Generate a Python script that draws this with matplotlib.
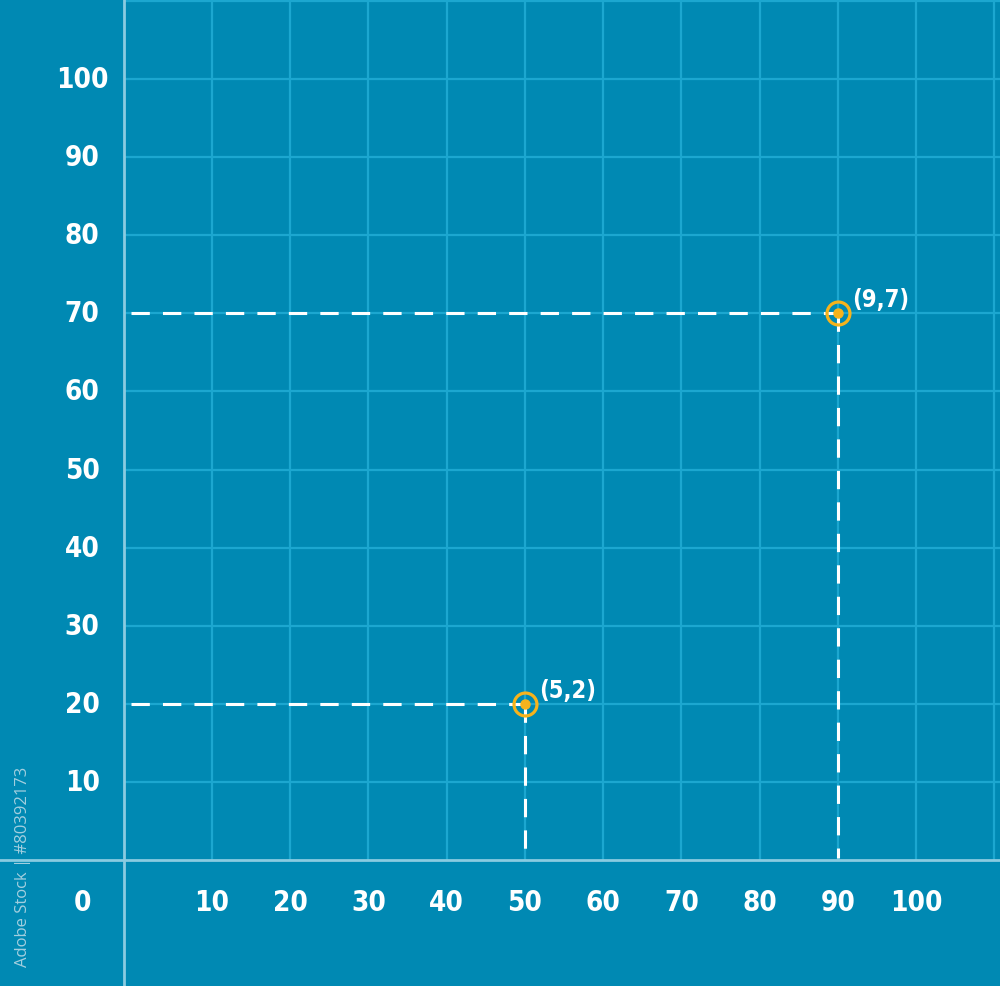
import matplotlib
matplotlib.use('Agg')
import matplotlib.pyplot as plt
import numpy as np

# data
x_ticks = [10, 20, 30, 40, 50, 60, 70, 80, 90, 100]
y_ticks = [10, 20, 30, 40, 50, 60, 70, 80, 90, 100]
grid_x = [10, 20, 30, 40, 50, 60, 70, 80, 90, 100, 110]
grid_y = [10, 20, 30, 40, 50, 60, 70, 80, 90, 100, 110]
pts_x = [50, 90]
pts_y = [20, 70]
pts_lbl = ['(5,2)', '(9,7)']

bg = '#0089b3'
grid_col = '#1ca7d0'
axis_col = '#8acbe0'
ring_col = '#f6b31c'
txt_font = ['DejaVu Sans']

fig = plt.figure(figsize=(10, 9.87), dpi=100, facecolor=bg)
ax = fig.add_axes([0, 0, 1, 1])
ax.set_facecolor(bg)
ax.set_xlim(-17.11, 110.74)
ax.set_ylim(-16.12, 110.24)
ax.axis('off')

x0 = -1.25  # where the vertical axis line sits
# grid only in the first quadrant
ax.vlines(grid_x, 0, 112, color=grid_col, lw=1.6, zorder=1)
ax.hlines(grid_y, x0, 112, color=grid_col, lw=1.6, zorder=1)

# axis lines
ax.axvline(x0, color=axis_col, lw=2, zorder=2)
ax.axhline(0, color=axis_col, lw=2, zorder=2)

tk = dict(color='white', fontsize=20, fontweight='bold', family=txt_font,
          fontstretch='condensed', ha='center', va='center')
# tick labels
for v in x_ticks:
    ax.text(v, -5.4, str(v), **tk)
for v in y_ticks:
    ax.text(-6.6, v, str(v), **tk)
ax.text(-6.6, -5.4, '0', **tk)

# dashed guides + points
for px, py, lbl in zip(pts_x, pts_y, pts_lbl):
    ax.plot([-0.3, px], [py, py], color='white', lw=2.2, dashes=(6, 4.3),
            dash_capstyle='butt', zorder=3)
    ax.plot([px, px], [py, 0.3], color='white', lw=2.2, dashes=(6, 4.3),
            dash_capstyle='butt', zorder=3)
    ax.plot(px, py, 'o', ms=16.5, mfc='none', mec=ring_col, mew=2.3, zorder=4)
    ax.plot(px, py, 'o', ms=6.5, mfc=ring_col, mec=ring_col, zorder=5)
    ax.annotate(lbl, (px, py), xytext=(10, 10), textcoords='offset points',
                color='white', fontsize=17, fontweight='bold', family=txt_font,
                fontstretch='condensed', ha='left', va='center', zorder=6)

# side id text
ax.text(-14.2, -0.7, 'Adobe Stock | #80392173', color='#a3cfdf', fontsize=12,
        rotation=90, ha='center', va='center', family=['Open Sans', 'DejaVu Sans'])

fig.savefig('out.png', dpi=100, facecolor=bg)
